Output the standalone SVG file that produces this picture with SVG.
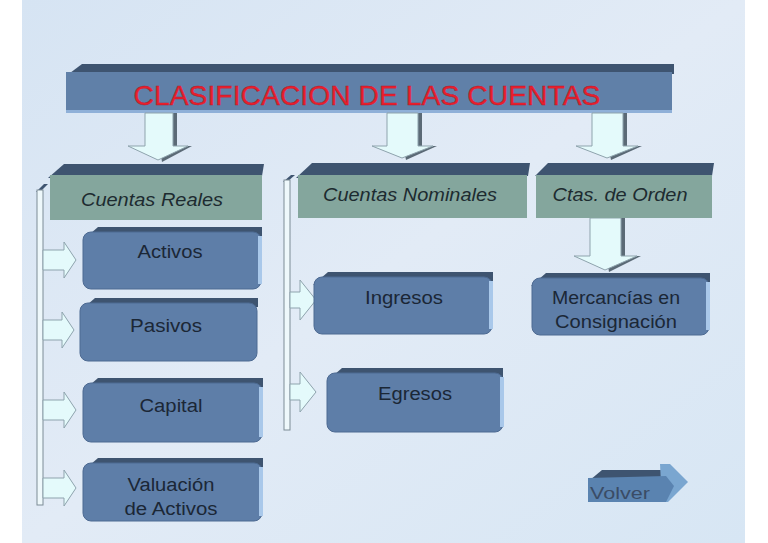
<svg xmlns="http://www.w3.org/2000/svg" width="768" height="543" viewBox="0 0 768 543">
<defs>
<style>
.topf{fill:#3e5470}
.bar{fill:#6080a8}
.hdr{fill:#84a69d}
.box{fill:#5e7ea8;stroke:#4d6a92;stroke-width:1}
.edge{fill:#a9c8ea}
.arr{fill:#e4fafb;stroke:#8ea3ad;stroke-width:1}
.shd{fill:#5b6a76}
.lbl{font-family:"Liberation Sans",Arial,sans-serif;font-size:18px;fill:#1b2736;text-anchor:middle}
.hl{font-family:"Liberation Sans",Arial,sans-serif;font-size:18px;font-style:italic;fill:#1d2b30;text-anchor:middle}
.title{font-family:"Liberation Sans",Arial,sans-serif;font-size:28px;fill:#ea1f2b;text-anchor:middle;stroke:#b01830;stroke-width:0.4}
.brk{fill:#eef8fb;stroke:#7d8c96;stroke-width:1}
</style>
<linearGradient id="g" x1="0" y1="0" x2="1" y2="1">
<stop offset="0" stop-color="#d6e4f3"/>
<stop offset="0.5" stop-color="#e2ebf6"/>
<stop offset="1" stop-color="#d7e6f4"/>
</linearGradient>
</defs>
<rect width="768" height="543" fill="#ffffff"/>
<rect x="22" y="0" width="723" height="543" fill="url(#g)"/>

<g id="title">
<polygon class="topf" points="66,76 82,64 674,64 674,74"/>
<rect class="bar" x="66" y="72" width="606" height="41"/>
<rect x="66" y="110" width="606" height="3" fill="#8fb0d8"/>
<text class="title" x="367" y="105" textLength="467" lengthAdjust="spacingAndGlyphs">CLASIFICACION DE LAS CUENTAS</text>
</g>

<g id="connectors">
<polygon class="shd" points="149,113 177,113 177,146 192,146 162,162 160,150"/>
<polygon class="arr" points="145,113 173,113 173,146 188,146 158,160 128,146 145,146"/>
<polygon class="shd" points="391,113 422,113 422,146 437,146 406,160 404,150"/>
<polygon class="arr" points="387,113 418,113 418,146 433,146 402,158 372,146 387,146"/>
<polygon class="shd" points="596,113 627,113 627,146 642,146 611,160 609,150"/>
<polygon class="arr" points="592,113 623,113 623,146 638,146 607,158 576,146 592,146"/>
<polygon class="shd" points="594,218 625,218 625,256 641,256 609,272 607,260"/>
<polygon class="arr" points="590,218 621,218 621,256 637,256 605,270 574,256 590,256"/>
<polygon fill="#3e5470" points="36,192 44,184 48,184 40,192"/>
<rect class="brk" x="37" y="190" width="6" height="315"/>
<polygon class="arr" points="43,250 64,250 64,242 76,260 64,278 64,270 43,270"/>
<polygon class="arr" points="43,320 62,320 62,312 74,330 62,348 62,340 43,340"/>
<polygon class="arr" points="43,400 64,400 64,392 76,410 64,428 64,420 43,420"/>
<polygon class="arr" points="43,478 64,478 64,470 76,488 64,506 64,498 43,498"/>
<polygon fill="#3e5470" points="283,182 291,175 295,175 287,182"/>
<rect class="brk" x="284" y="180" width="6" height="250"/>
<polygon class="arr" points="290,292 300,292 300,280 316,300 300,320 300,308 290,308"/>
<polygon class="arr" points="290,384 300,384 300,372 316,392 300,412 300,400 290,400"/>
</g>

<g id="cuentas-reales">
<polygon class="topf" points="48,178 64,164 264,164 262,176"/>
<rect class="hdr" x="50" y="175" width="212" height="45"/>
<text class="hl" x="152" y="206" textLength="142" lengthAdjust="spacingAndGlyphs">Cuentas Reales</text>
</g>
<g id="cuentas-nominales">
<polygon class="topf" points="296,178 312,163 530,163 528,176"/>
<rect class="hdr" x="298" y="175" width="229" height="43"/>
<text class="hl" x="410" y="201" textLength="174" lengthAdjust="spacingAndGlyphs">Cuentas Nominales</text>
</g>
<g id="ctas-orden">
<polygon class="topf" points="535,176 548,163 714,163 712,176"/>
<rect class="hdr" x="536" y="175" width="176" height="43"/>
<text class="hl" x="620" y="201" textLength="135" lengthAdjust="spacingAndGlyphs">Ctas. de Orden</text>
</g>

<g id="activos">
<polygon class="topf" points="83,240 98,227 262,227 262,236"/>
<rect class="box" x="83" y="232" width="178" height="57" rx="8"/>
<rect class="edge" x="258" y="236" width="4" height="48"/>
<text class="lbl" x="170" y="258" textLength="65" lengthAdjust="spacingAndGlyphs">Activos</text>
</g>
<g id="pasivos">
<polygon class="topf" points="80,311 95,298 258,298 258,307"/>
<rect class="box" x="80" y="303" width="177" height="58" rx="8"/>
<text class="lbl" x="166" y="332" textLength="72" lengthAdjust="spacingAndGlyphs">Pasivos</text>
</g>
<g id="capital">
<polygon class="topf" points="83,391 98,378 263,378 263,387"/>
<rect class="box" x="83" y="383" width="179" height="59" rx="8"/>
<rect class="edge" x="259" y="387" width="4" height="50"/>
<text class="lbl" x="171" y="412" textLength="63" lengthAdjust="spacingAndGlyphs">Capital</text>
</g>
<g id="valuacion">
<polygon class="topf" points="83,471 98,458 263,458 263,467"/>
<rect class="box" x="83" y="463" width="179" height="58" rx="8"/>
<rect class="edge" x="259" y="467" width="4" height="49"/>
<text class="lbl" x="171" y="491" textLength="87" lengthAdjust="spacingAndGlyphs">Valuación</text>
<text class="lbl" x="171" y="515" textLength="93" lengthAdjust="spacingAndGlyphs">de Activos</text>
</g>
<g id="ingresos">
<polygon class="topf" points="313,285 328,272 493,272 493,281"/>
<rect class="box" x="314" y="277" width="178" height="57" rx="8"/>
<rect class="edge" x="489" y="281" width="4" height="48"/>
<text class="lbl" x="404" y="304" textLength="78" lengthAdjust="spacingAndGlyphs">Ingresos</text>
</g>
<g id="egresos">
<polygon class="topf" points="327,381 342,368 503,368 503,377"/>
<rect class="box" x="327" y="373" width="176" height="59" rx="8"/>
<rect class="edge" x="500" y="377" width="4" height="50"/>
<text class="lbl" x="415" y="400" textLength="74" lengthAdjust="spacingAndGlyphs">Egresos</text>
</g>
<g id="mercancias">
<polygon class="topf" points="531,286 546,273 710,273 710,282"/>
<rect class="box" x="532" y="278" width="177" height="57" rx="8"/>
<rect class="edge" x="706" y="282" width="4" height="48"/>
<text class="lbl" x="616" y="304" textLength="128" lengthAdjust="spacingAndGlyphs">Mercancías en</text>
<text class="lbl" x="616" y="328" textLength="122" lengthAdjust="spacingAndGlyphs">Consignación</text>
</g>

<g id="volver">
<polygon fill="#3e5470" points="590,480 602,470 664,470 666,478"/>
<polygon fill="#7aa6d0" points="660,464 670,464 688,482 668,502 662,502"/>
<polygon fill="#5a83b0" points="588,478 666,476 674,486 666,502 588,502"/>
<text x="620" y="499" font-family="Liberation Sans, Arial, sans-serif" font-size="16" fill="#3a4c66" text-anchor="middle" textLength="60" lengthAdjust="spacingAndGlyphs">Volver</text>
</g>
</svg>
